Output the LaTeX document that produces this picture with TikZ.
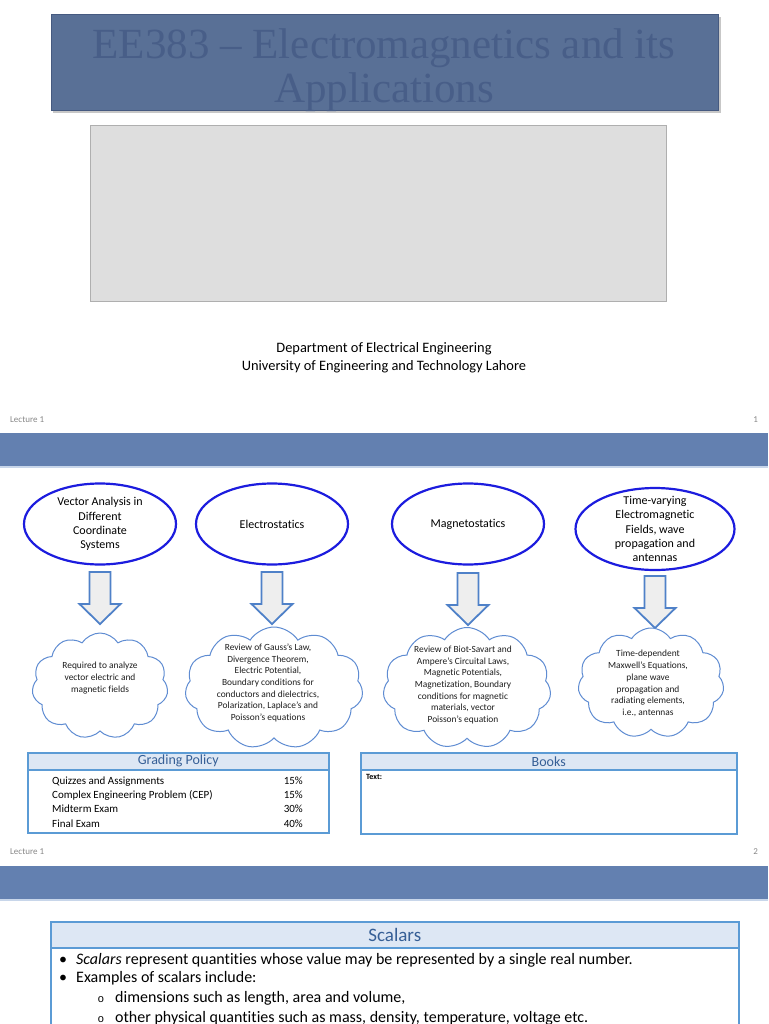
\documentclass[tikz,border=0pt]{standalone}
\usepackage{fontspec}
\setmainfont{Carlito}[Ligatures={TeX,NoCommon}]
\newfontfamily\titlefont{Liberation Serif}
\newfontfamily\circfont{Liberation Sans}
\usetikzlibrary{shapes.geometric,shapes.symbols}
\definecolor{titlefill}{RGB}{89,112,150}
\definecolor{titleedge}{RGB}{70,90,128}
\definecolor{titletext}{RGB}{72,94,136}
\definecolor{bandblue}{RGB}{99,128,176}
\definecolor{bandline}{RGB}{200,214,234}
\definecolor{grayfill}{RGB}{222,222,222}
\definecolor{grayedge}{RGB}{175,175,175}
\definecolor{ellblue}{RGB}{28,28,222}
\definecolor{arrowblue}{RGB}{79,129,200}
\definecolor{arrowfill}{RGB}{238,238,238}
\definecolor{cloudblue}{RGB}{95,140,210}
\definecolor{tblblue}{RGB}{91,155,213}
\definecolor{tblhead}{RGB}{221,231,244}
\definecolor{headtext}{RGB}{54,95,150}
\definecolor{foot}{RGB}{135,135,135}
\definecolor{cloudink}{RGB}{30,30,30}
\tikzset{
  ellnode/.style={ellipse, draw=ellblue, line width=2.2pt, fill=white,
    minimum width=152pt, minimum height=81pt, inner sep=0pt},
  elltext/.style={align=center, font=\fontsize{12}{14.3}\selectfont, inner sep=0pt},
  cloudnode/.style={cloud, cloud puffs=11, cloud puff arc=115, cloud ignores aspect,
    draw=cloudblue, line width=1pt, fill=white, inner sep=0pt},
  cloudtext/.style={align=center, font=\fontsize{9.4}{11.7}\selectfont, inner sep=0pt, text=cloudink},
  blockarrow/.style={draw=arrowblue, line width=1.8pt, fill=arrowfill, line join=miter},
  pics/downarrow/.style={code={
    \draw[blockarrow] (-10.5,0) -- (10.5,0) -- (10.5,32) -- (20.5,32) -- (0,52)
      -- (-20.5,32) -- (-10.5,32) -- cycle;}},
  band/.style={fill=bandblue, draw=none},
  foottext/.style={font=\fontsize{9}{10}\selectfont, text=foot, inner sep=0pt},
  tblbox/.style={draw=tblblue, line width=1.5pt, fill=white, rectangle, inner sep=0pt, anchor=north west},
  headcell/.style={draw=tblblue, line width=1.5pt, fill=tblhead, rectangle, inner sep=0pt,
    anchor=north west, text=headtext},
  rowtext/.style={font=\fontsize{11}{12}\selectfont, inner sep=0pt},
  bodytext/.style={font=\fontsize{16}{18}\selectfont, inner sep=0pt},
  subbullet/.style={anchor=base, inner sep=0pt, font=\circfont\fontsize{11}{12}\selectfont},
}
\begin{document}
\begin{tikzpicture}[x=1pt,y=-1pt]
\useasboundingbox (0,0) rectangle (768,1024);
\fill[white] (0,0) rectangle (768,1024);

% ---------- slide 1 ----------
\fill[black!22] (53,17) rectangle (721,113);
\node[rectangle, fill=titlefill, draw=titleedge, line width=1pt, anchor=north west,
  minimum width=667pt, minimum height=96pt, inner sep=0pt] (title) at (51,14) {};
\node[align=center, inner sep=0pt, text=titletext,
  font=\titlefont\fontsize{43}{44}\selectfont] (titlet) at (384,70)
  {EE383 – Electromagnetics and its\\Applications};
\node[rectangle, fill=grayfill, draw=grayedge, line width=0.8pt, anchor=north west,
  minimum width=576pt, minimum height=176pt, inner sep=0pt] (graybox) at (90,125) {};
\node[align=center, inner sep=0pt, font=\fontsize{14.4}{18}\selectfont] (dept) at (384,357.5)
  {Department of Electrical Engineering\\University of Engineering and Technology Lahore};
\node[foottext, anchor=west] (lec1) at (10,420) {Lecture 1};
\node[foottext, anchor=east] (pg1) at (758,420) {1};

% ---------- slide 2 ----------
\fill[band] (0,433) rectangle (768,466);
\fill[bandline] (0,466) rectangle (768,468);

\node[ellnode] (e1) at (100,524) {};
\node[elltext] (e1t) at (e1) {Vector Analysis in\\Different\\Coordinate\\Systems};
\node[ellnode] (e2) at (272,524) {};
\node[elltext] (e2t) at (e2) {Electrostatics};
\node[ellnode] (e3) at (468,524) {};
\node[elltext] (e3t) at (e3) {Magnetostatics};
\node[ellnode, minimum width=159pt, minimum height=82pt] (e4) at (655,529) {};
\node[elltext] (e4t) at (e4) {Time-varying\\Electromagnetic\\Fields, wave\\propagation and\\antennas};

\pic at (100,572) {downarrow};
\pic at (272,572) {downarrow};
\pic at (468,573) {downarrow};
\pic at (655,576) {downarrow};

\node[cloudnode, minimum width=136pt, minimum height=106pt] (c1) at (100,686) {};
\node[cloudtext] (c1t) at (100,678) {Required to analyze\\vector electric and\\magnetic fields};
\node[cloudnode, minimum width=178pt, minimum height=122pt] (c2) at (274,688) {};
\node[cloudtext] (c2t) at (268,683) {Review of Gauss's Law,\\Divergence Theorem,\\Electric Potential,\\Boundary conditions for\\conductors and dielectrics,\\Polarization, Laplace's and\\Poisson's equations};
\node[cloudnode, minimum width=168pt, minimum height=121pt] (c3) at (467,688) {};
\node[cloudtext] (c3t) at (463,685) {Review of Biot-Savart and\\Ampere's Circuital Laws,\\Magnetic Potentials,\\Magnetization, Boundary\\conditions for magnetic\\materials, vector\\Poisson's equation};
\node[cloudnode, minimum width=146pt, minimum height=110pt] (c4) at (651,683) {};
\node[cloudtext] (c4t) at (648,683.5) {Time-dependent\\Maxwell's Equations,\\plane wave\\propagation and\\radiating elements,\\i.e., antennas};

% grading policy
\node[tblbox, minimum width=301pt, minimum height=80pt] (gp) at (27,752) {};
\node[headcell, minimum width=301pt, minimum height=17pt, font=\fontsize{14}{15}\selectfont]
  (gph) at (gp.north west) {Grading Policy};
\node[rowtext, anchor=base west] (r1) at (52,784) {Quizzes and Assignments};
\node[rowtext, anchor=base west] (r2) at (52,798) {Complex Engineering Problem (CEP)};
\node[rowtext, anchor=base west] (r3) at (52,812) {Midterm Exam};
\node[rowtext, anchor=base west] (r4) at (52,827) {Final Exam};
\node[rowtext, anchor=base east] (p1) at (303,784) {15\%};
\node[rowtext, anchor=base east] (p2) at (303,798) {15\%};
\node[rowtext, anchor=base east] (p3) at (303,812) {30\%};
\node[rowtext, anchor=base east] (p4) at (303,827) {40\%};

% books
\node[tblbox, minimum width=376pt, minimum height=81pt] (bk) at (360,752) {};
\node[headcell, minimum width=376pt, minimum height=17pt, font=\fontsize{14}{15}\selectfont]
  (bkh) at (bk.north west) {Books};
\node[anchor=base west, inner sep=0pt, font=\bfseries\fontsize{8}{9}\selectfont] (bkt) at (366,779) {Text:};

\node[foottext, anchor=west] (lec2) at (10,852) {Lecture 1};
\node[foottext, anchor=east] (pg2) at (758,852) {2};

% ---------- slide 3 ----------
\fill[band] (0,866) rectangle (768,899);
\fill[bandline] (0,899) rectangle (768,901);

\node[tblbox, minimum width=688pt, minimum height=130pt] (sc) at (50,921) {};
\node[headcell, minimum width=688pt, minimum height=26pt, font=\fontsize{19}{20}\selectfont]
  (sch) at (sc.north west) {Scalars};
\node[bodytext, anchor=base] (b1) at (63,964) {•};
\node[bodytext, anchor=base west] (l1) at (76,964) {\textit{Scalars} represent quantities whose value may be represented by a single real number.};
\node[bodytext, anchor=base] (b2) at (63,982) {•};
\node[bodytext, anchor=base west] (l2) at (76,982) {Examples of scalars include:};
\node[subbullet] (o1) at (101,1002) {o};
\node[bodytext, anchor=base west] (l3) at (115,1002) {dimensions such as length, area and volume,};
\node[subbullet] (o2) at (101,1022) {o};
\node[bodytext, anchor=base west] (l4) at (115,1022) {other physical quantities such as mass, density, temperature, voltage etc.};
\end{tikzpicture}
\end{document}
